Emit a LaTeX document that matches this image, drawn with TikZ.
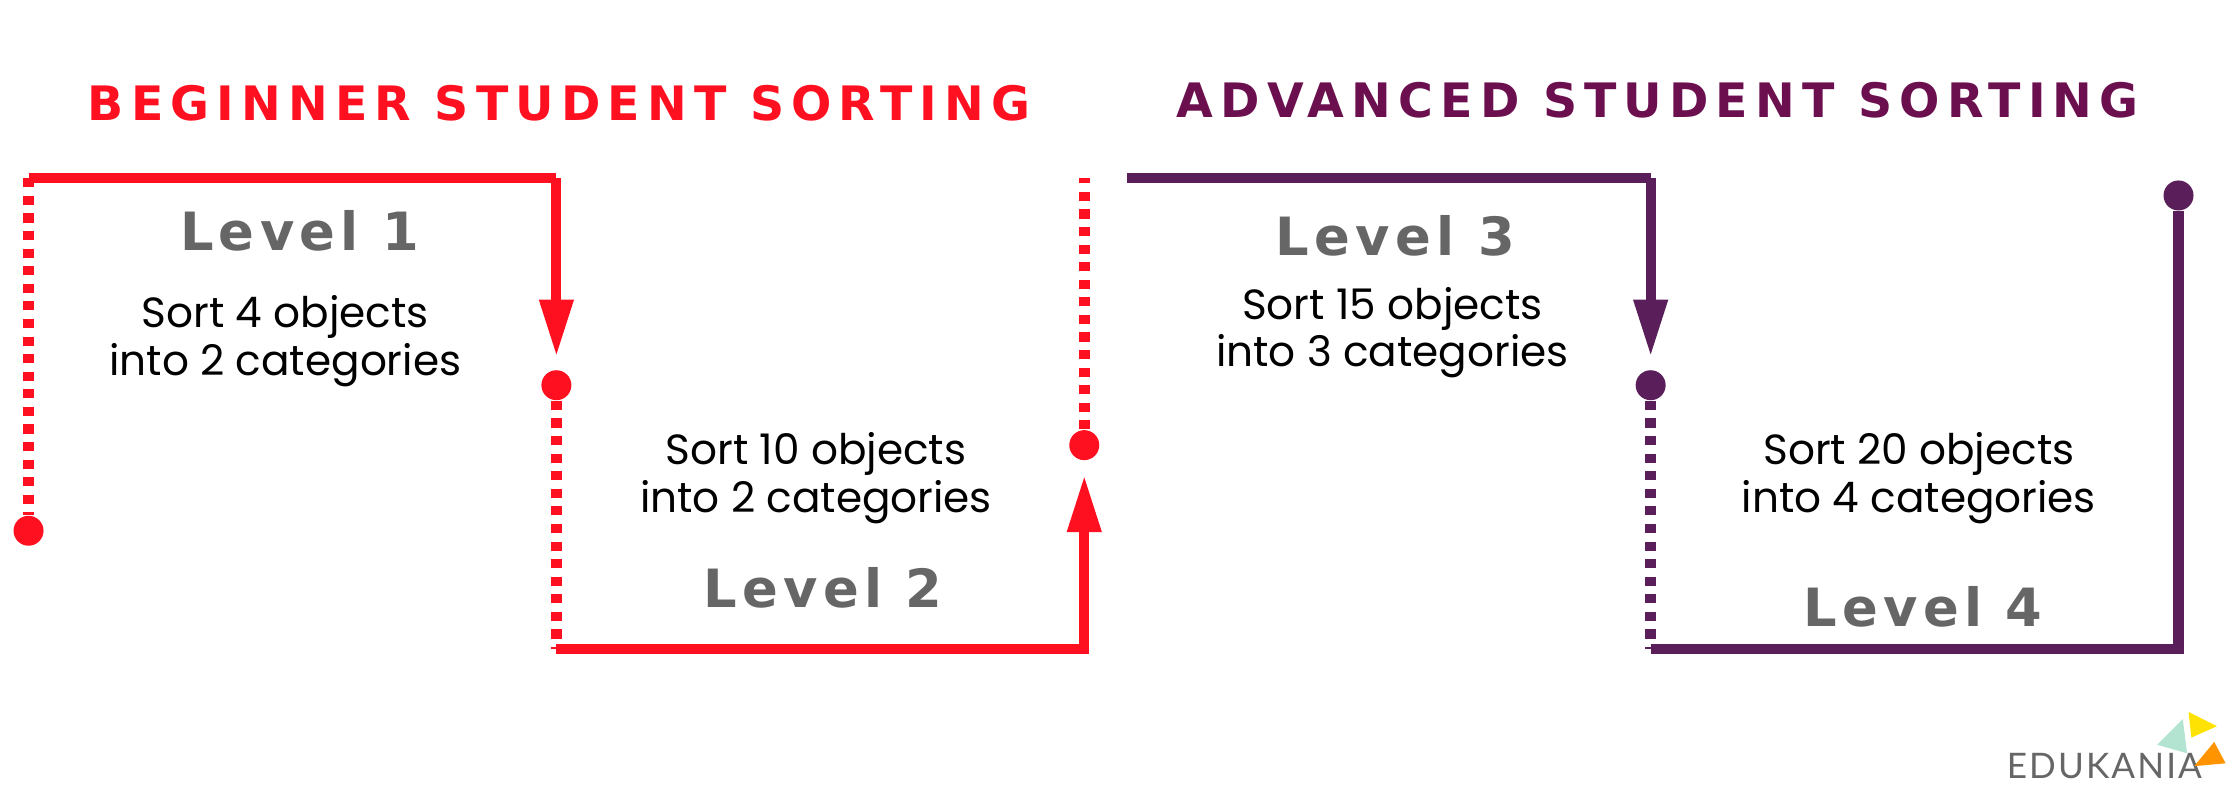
\documentclass[tikz,border=0pt]{standalone}
\usepackage{fontspec}
\setmainfont{Poppins}
\newfontfamily\titlefont[LetterSpace=15]{DejaVu Sans}
\newfontfamily\levelfont[LetterSpace=10]{DejaVu Sans}
\newfontfamily\logofont[LetterSpace=6]{Lato}
\usetikzlibrary{arrows.meta}
\definecolor{bred}{HTML}{FF1020}
\definecolor{apur}{HTML}{5A1F5A}
\definecolor{atitle}{HTML}{6B0F4F}
\definecolor{lgray}{HTML}{666666}
\begin{document}
\begin{tikzpicture}[x=0.014267cm,y=-0.014267cm,
  solid line/.style={line width=2.9pt},
  dot line/.style={line width=3.2pt,dash pattern=on 2.6pt off 2.4pt},
  arr/.style={-{Triangle[length=0.57cm,width=0.32cm]}},
  dot/.style={circle,fill,inner sep=0pt,minimum size=0.3cm},
  title/.style={font=\titlefont\bfseries\fontsize{13.5}{16}\selectfont},
  level/.style={font=\levelfont\bfseries\fontsize{15}{18}\selectfont,text=lgray},
  body/.style={font=\fontsize{12}{14.5}\selectfont,align=center,inner sep=0pt}]
\useasboundingbox (0,0) rectangle (1568,556.5);
\node[title,text=bred] (t1) at (392,72) {BEGINNER STUDENT SORTING};
\node[title,text=atitle] (t2) at (1162,70) {ADVANCED STUDENT SORTING};
\begin{scope}[color=bred]
\coordinate (a0) at (20,125);
\coordinate (a1) at (390,125);
\coordinate (a2) at (390,250);
\node[dot] (d1) at (390,270) {};
\node[dot] (d0) at (20,372) {};
\coordinate (b0) at (390,455);
\coordinate (b1) at (760,455);
\coordinate (b2) at (760,333);
\node[dot] (d2) at (760,312) {};
\coordinate (b3) at (760,125);
\draw[solid line] (a0) -- (a1);
\draw[solid line,arr] (a1) -- (a2);
\draw[dot line] (a0) -- (d0);
\draw[dot line] (d1) -- (b0);
\draw[solid line,arr] (b0) -- (b1) -- (b2);
\draw[dot line] (d2) -- (b3);
\end{scope}
\begin{scope}[color=apur]
\coordinate (c0) at (790,125);
\coordinate (c1) at (1157,125);
\coordinate (c2) at (1157,250);
\node[dot] (d3) at (1157,270) {};
\coordinate (e0) at (1157,455);
\coordinate (e1) at (1527,455);
\node[dot] (d4) at (1527,137) {};
\draw[solid line] (c0) -- (c1);
\draw[solid line,arr] (c1) -- (c2);
\draw[dot line] (d3) -- (e0);
\draw[solid line] (e0) -- (e1) -- (d4);
\end{scope}
\node[level] (l1) at (210,162) {Level 1};
\node[body] (s1) at (200,239) {Sort 4 objects\\[-1pt]into 2 categories};
\node[body] (s2) at (572,335) {Sort 10 objects\\[-1pt]into 2 categories};
\node[level] (l2) at (577,412) {Level 2};
\node[level] (l3) at (978,165) {Level 3};
\node[body] (s3) at (976,233) {Sort 15 objects\\[-1pt]into 3 categories};
\node[body] (s4) at (1345,335) {Sort 20 objects\\[-1pt]into 4 categories};
\node[level] (l4) at (1348,425) {Level 4};
\node[font=\logofont\fontsize{10}{12}\selectfont,text=lgray] (logo) at (1475,537) {EDUKANIA};
\fill[cyan!40!green!30] (1512,522) -- (1530,504) -- (1533,528) -- cycle;
\fill[yellow!85!orange] (1534,499) -- (1554,509) -- (1536,517) -- cycle;
\fill[orange!85!yellow] (1538,537) -- (1552,520) -- (1560,535) -- cycle;
\end{tikzpicture}
\end{document}
